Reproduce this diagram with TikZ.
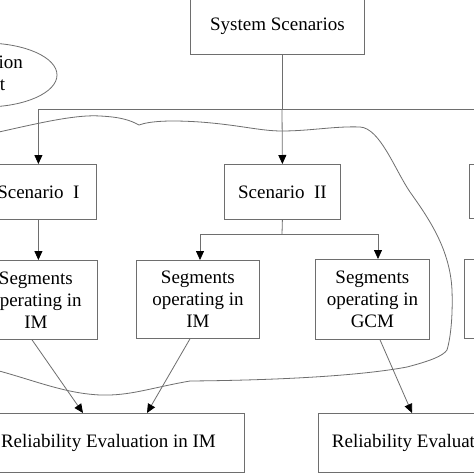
\documentclass[tikz,border=0pt]{standalone}
\usepackage{fontspec}
\setmainfont{Liberation Serif}
\usetikzlibrary{arrows.meta,calc,shapes.geometric}
\definecolor{linegray}{RGB}{110,110,110}
\begin{document}
\begin{tikzpicture}[x=1pt,y=-1pt,
  txt/.style={font=\fontsize{19}{22}\selectfont, align=center, text=black},
  box/.style={txt, draw=linegray, line width=0.8pt, anchor=north west, inner sep=0pt},
  conn/.style={draw=linegray, line width=0.8pt},
  arr/.style={conn, -{Triangle[width=8pt,length=9pt,color=black]}},
  curve/.style={draw=linegray, line width=0.8pt}]
\useasboundingbox (0,0) rectangle (474,474);
\clip (0,0) rectangle (474,474);
\fill[white] (0,0) rectangle (474,474);

% nodes
\node[box, minimum width=174pt, minimum height=56pt] (sys) at (190,-2) {System Scenarios};
\node[txt, ellipse, draw=linegray, line width=0.8pt, minimum width=144pt, minimum height=64pt, inner sep=0pt] (ell) at (-15,75) {Operation\\Input};

\node[box, minimum width=116pt, minimum height=55pt] (s1) at (-20,164) {Scenario\ \ I};
\node[box, minimum width=116pt, minimum height=55pt] (s2) at (224,164) {Scenario\ \ II};
\node[box, minimum width=116pt, minimum height=54pt] (s3) at (469,164) {};

\node[box, minimum width=123pt, minimum height=79pt] (seg1) at (-26,260) {Segments\\operating in\\IM};
\node[box, minimum width=123pt, minimum height=78pt] (seg2) at (136,260) {Segments\\operating in\\IM};
\node[box, minimum width=114pt, minimum height=80pt] (seg3) at (315,259) {Segments\\operating in\\GCM};
\node[box, minimum width=114pt, minimum height=79pt] (seg4) at (464,259) {};

\node[box, minimum width=272pt, minimum height=59pt] (rel1) at (-28,413) {Reliability Evaluation in IM};
\node[box, minimum width=262pt, minimum height=59pt] (rel2) at (318,413) {Reliability Evaluation in GCM};

% connectors
\coordinate (j) at (282,109);
\draw[conn] (j |- sys.south) -- (j);
\draw[arr] (j) -- (s2.north);
\draw[arr] (j) -| (s1.north);
\draw[arr] (j) -| (s3.north);

\coordinate (b) at (282,234);
\coordinate (b2) at (200,234);
\coordinate (b3) at (378,234);
\draw[conn] (s2.south) -- (b);
\draw[conn] (b2) -- (b3);
\draw[arr] (b2) -- (b2 |- seg2.north);
\draw[arr] (b3) -- (b3 |- seg3.north);
\draw[arr] (s1.south) -- (s1.south |- seg1.north);

\draw[arr] ($(seg1.south west)+(58,0)$) -- ($(rel1.north west)+(111,0)$);
\draw[arr] ($(seg2.south west)+(54,0)$) -- ($(rel1.north west)+(175,0)$);
\draw[arr] ($(seg3.south west)+(65,0)$) -- ($(rel2.north west)+(94,0)$);

% free-form boundary
\draw[curve] (-20,136) .. controls (20,128) and (70,114) .. (100,116)
  .. controls (120,117) and (130,120) .. (139,125)
  .. controls (150,121) and (170,120) .. (200,122)
  .. controls (240,125) and (260,131) .. (282,131)
  .. controls (310,131) and (335,126) .. (360,127)
  .. controls (380,128) and (395,170) .. (410,192)
  .. controls (430,220) and (450,250) .. (452,290)
  .. controls (453,320) and (450,340) .. (447,350)
  .. controls (443,356) and (430,361) .. (407,367)
  .. controls (370,374) and (300,380) .. (190,381)
  .. controls (150,388) and (130,396) .. (100,395)
  .. controls (60,393) and (30,378) .. (-20,366);
\end{tikzpicture}
\end{document}
